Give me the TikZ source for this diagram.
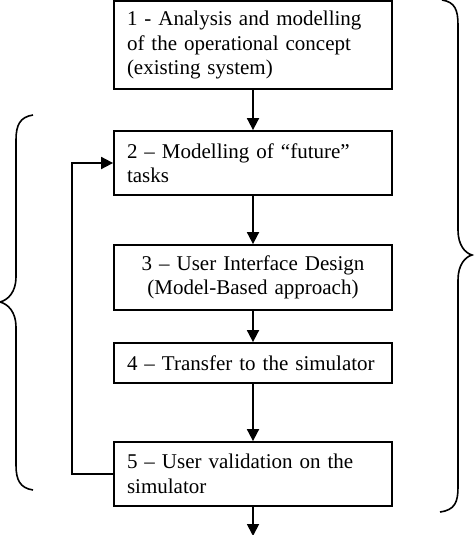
\documentclass[tikz,border=0pt]{standalone}
\usepackage{fontspec}
\setmainfont{Liberation Serif}
\usetikzlibrary{arrows.meta}
\begin{document}
\begin{tikzpicture}[x=1pt,y=-1pt,
  box/.style={draw,line width=1.8pt,minimum width=278pt,text width=252pt,inner sep=0pt,align=left,font=\fontsize{21}{24.5}\selectfont},
  arr/.style={line width=1.8pt,-{Triangle[width=12pt,length=12pt]}},
  brace/.style={line width=1.6pt}]
\useasboundingbox (0,0) rectangle (474,535);
\node[box,minimum height=88pt] (b1) at (253,45) {1 - Analysis and modelling\\of the operational concept\\(existing system)};
\node[box,minimum height=64pt] (b2) at (253,163) {2 – Modelling of “future”\\tasks};
\node[box,minimum height=65pt,align=center] (b3) at (253,277.5) {3 – User Interface Design\\(Model-Based approach)};
\node[box,minimum height=40pt] (b4) at (253,363) {4 – Transfer to the simulator};
\node[box,minimum height=64pt] (b5) at (253,474) {5 – User validation on the\\simulator};
\coordinate (out) at (253,536);
\draw[arr] (b1) -- (b2);
\draw[arr] (b2) -- (b3);
\draw[arr] (b3) -- (b4);
\draw[arr] (b4) -- (b5);
\draw[arr] (b5) -- (out);
\draw[arr] (b5.west) -- ++(-41,0) |- (b2.west);
\draw[brace] (33,115) .. controls (20,117) and (16,125) .. (16,140) -- (16,277) .. controls (16,292) and (8,300) .. (0,302) .. controls (8,304) and (16,312) .. (16,327) -- (16,465) .. controls (16,480) and (20,488) .. (33,490);
\draw[brace] (442,0) .. controls (455,2) and (458,10) .. (458,25) -- (458,230) .. controls (458,245) and (465,253) .. (472,255) .. controls (465,257) and (458,265) .. (458,280) -- (458,487) .. controls (458,502) and (455,510) .. (440,512);
\end{tikzpicture}
\end{document}
